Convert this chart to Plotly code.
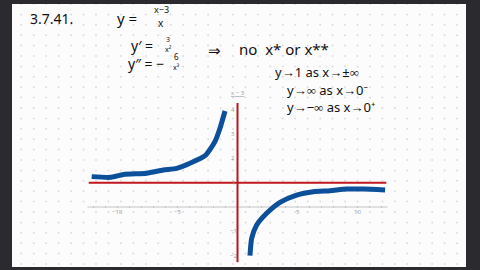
import numpy as np
import plotly.graph_objects as go

# ---- data ----
left_x = [-12.15, -10.6, -9.5, -7.57, -6.18, -5.07, -3.96, -2.7, -1.88, -1.46, -1.04]
left_y = [1.25, 1.22, 1.34, 1.39, 1.52, 1.59, 1.80, 2.11, 2.69, 3.24, 3.95]
right_x = [1.04, 1.18, 1.6, 2.43, 3.54, 4.93, 6.32, 7.7, 9.1, 10.5, 12.3]
right_y = [-2.0, -1.29, -0.74, -0.26, 0.19, 0.49, 0.63, 0.67, 0.74, 0.74, 0.70]
x_ticks = [-10, -5, 5, 10]
y_ticks = [-2, -1, 1, 2, 3, 4]
asym_y = 1
asym_x = 0

W, H = 480, 270
X0PX, XS = 237.5, 12.0      # pixel of x=0, px per unit
Y0PX, YS = 207.0, 24.3      # pixel of y=0, px per unit

fig = go.Figure()

# page dot grid (pixel canvas on x/y)
gx = np.arange(21.3, 466, 12.45)
gy = np.arange(4.0, 268, 10.4)
GX, GY = np.meshgrid(gx, gy)
fig.add_trace(go.Scatter(x=GX.ravel(), y=GY.ravel(), mode="markers",
                         marker=dict(size=2, color="#dcdcdf"), hoverinfo="skip",
                         xaxis="x", yaxis="y"))

# chart on x2/y2
ax = dict(xaxis="x2", yaxis="y2", hoverinfo="skip")
fig.add_trace(go.Scatter(x=[-12.5, 12.5], y=[0, 0], mode="lines",
                         line=dict(color="#c4c4c4", width=1), **ax))
ti = [i for i in range(-12, 13) if i != 0]
tx, ty = [], []
for i in ti:
    tx += [i, i, None]
    ty += [0.04, -0.04, None]
fig.add_trace(go.Scatter(x=tx, y=ty, mode="lines", line=dict(color="#c4c4c4", width=1), **ax))
fig.add_trace(go.Scatter(x=[-12.4, 12.4], y=[asym_y, asym_y], mode="lines",
                         line=dict(color="#c0181c", width=2), **ax))
fig.add_trace(go.Scatter(x=[asym_x, asym_x], y=[-2.27, 4.28], mode="lines",
                         line=dict(color="#b8161a", width=2), **ax))
for xs, ys in [(left_x, left_y), (right_x, right_y)]:
    fig.add_trace(go.Scatter(x=xs, y=ys, mode="lines",
                             line=dict(color="#0c4f9a", width=5, shape="spline", smoothing=0.6), **ax))

ann = []
for t in x_ticks:
    ann.append(dict(x=t, y=-0.21, xref="x2", yref="y2", text=str(t).replace("-", "\u2212"),
                    showarrow=False, font=dict(size=6, color="#999999")))
for t in y_ticks:
    ann.append(dict(x=-0.35, y=t, xref="x2", yref="y2", text=str(t).replace("-", "\u2212"),
                    showarrow=False, font=dict(size=6, color="#999999")))
ann.append(dict(x=0, y=4.7, xref="x2", yref="y2", text="<u>x \u2212 3</u>",
                showarrow=False, font=dict(size=6, color="#999999")))

F = "Noto Sans"
def txt(x, y, s, size=14):
    ann.append(dict(x=x, y=y, xref="x", yref="y", text=s, showarrow=False,
                    borderpad=0, font=dict(size=size, color="#111111", family=F)))

txt(51, 18, "3.7.41.")
txt(127, 18, "y =", 15)
txt(161, 9, "x\u22123", 9)
txt(161, 23, "x", 10)
txt(142, 45, "y\u2032 =")
txt(168, 39, "3", 7)
txt(168, 49, "x\u00b2", 7)
txt(146, 63, "y\u2033 = \u2212")
txt(176, 56, "6", 8)
txt(176, 67, "x\u00b3", 7)
txt(214, 50, "\u21d2", 15)
txt(284, 49, "no  x* or x**", 15)
txt(317, 72, "y\u21921 as x\u2192\u00b1\u221e", 13)
txt(327, 89.5, "y\u2192\u221e as x\u21920\u207b", 13)
txt(331, 107, "y\u2192\u2212\u221e as x\u21920\u207a", 13)

dark = "#2b2a2f"
shapes = [
    dict(type="rect", xref="paper", yref="paper", x0=0, x1=12 / W, y0=0, y1=1, fillcolor=dark, line_width=0, layer="above"),
    dict(type="rect", xref="paper", yref="paper", x0=466 / W, x1=1, y0=0, y1=1, fillcolor=dark, line_width=0, layer="above"),
    dict(type="rect", xref="paper", yref="paper", x0=0, x1=1, y0=1 - 4 / H, y1=1, fillcolor=dark, line_width=0, layer="above"),
    dict(type="rect", xref="paper", yref="paper", x0=0, x1=1, y0=0, y1=3 / H, fillcolor=dark, line_width=0, layer="above"),
]

hid = dict(visible=False, showgrid=False, zeroline=False, fixedrange=True)
fig.update_layout(
    width=W, height=H, margin=dict(l=0, r=0, t=0, b=0),
    paper_bgcolor="#fdfcfd", plot_bgcolor="#fdfcfd", showlegend=False,
    xaxis=dict(range=[0, W], domain=[0, 1], **hid),
    yaxis=dict(range=[H, 0], domain=[0, 1], **hid),
    xaxis2=dict(range=[-X0PX / XS, (W - X0PX) / XS], domain=[0, 1], overlaying="x", **hid),
    yaxis2=dict(range=[-(H - Y0PX) / YS, Y0PX / YS], domain=[0, 1], overlaying="y", **hid),
    annotations=ann, shapes=shapes,
)
fig.write_html("out.html")
